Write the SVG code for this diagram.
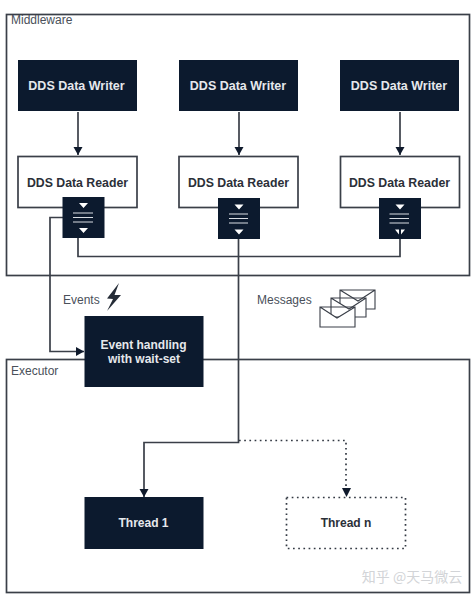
<svg xmlns="http://www.w3.org/2000/svg" width="474" height="597" viewBox="0 0 474 597">
<defs>
<marker id="arr" markerUnits="userSpaceOnUse" markerWidth="9" markerHeight="10" refX="8" refY="4.500" orient="auto"><path d="M0,0 L8,4.500 L0,9 Z" fill="#0f1a2c"/></marker>
</defs>
<style>
text{font-family:"Liberation Sans",Arial,sans-serif;text-anchor:middle}
.box{fill:#fff;stroke:#3a3f48;stroke-width:1.7}
.dark{fill:#0c1a2e}
.lbl{font-size:12.3px;font-weight:700;fill:#2b3038}
.wl{font-size:12.5px;font-weight:700;fill:#e6e8ec}
.sm{font-size:12px}
.cap{font-size:12px;fill:#4a505a;text-anchor:start}
.wire{fill:none;stroke:#3a3f48;stroke-width:1.7}
.dot{fill:none;stroke:#333943;stroke-width:1.7;stroke-dasharray:1.700 3.500}
.tri{fill:#fff}
.ln{stroke:#d9dde3;stroke-width:1}
.env{fill:#fff;stroke:#3a3f48;stroke-width:1.100}
</style>
<rect width="474" height="597" fill="#fff"/>
<g id="middleware"><rect class="box" x="6.500" y="14.500" width="463" height="261"/><text class="cap" x="11" y="24">Middleware</text></g>
<g id="executor"><rect class="box" x="6.500" y="359.500" width="463" height="233"/><text class="cap" x="11" y="375">Executor</text></g>
<g id="connectors">
<path class="wire" d="M78,112V155" marker-end="url(#arr)"/>
<path class="wire" d="M239,112V155" marker-end="url(#arr)"/>
<path class="wire" d="M400,112V155" marker-end="url(#arr)"/>
<path class="wire" d="M63,217.500H50V351.500H84" marker-end="url(#arr)"/>
<path class="wire" d="M78,237V256.500H400V238"/>
<path class="wire" d="M238.500,238V442.500H144V497" marker-end="url(#arr)"/>
<path class="dot" d="M239,440.500H346V487"/>
<path d="M342,488H351L346.500,497Z" fill="#0f1a2c"/>
</g>
<g id="writer1"><rect class="dark" x="18" y="60" width="119" height="51"/><text class="wl" x="76.500" y="90">DDS Data Writer</text></g>
<g id="writer2"><rect class="dark" x="179" y="60" width="119" height="51"/><text class="wl" x="238" y="90">DDS Data Writer</text></g>
<g id="writer3"><rect class="dark" x="340" y="60" width="119" height="51"/><text class="wl" x="399" y="90">DDS Data Writer</text></g>
<g id="reader1"><rect class="box" x="18" y="156.500" width="119" height="51"/><text class="lbl" x="77.500" y="187">DDS Data Reader</text></g>
<g id="reader2"><rect class="box" x="179" y="156.500" width="119" height="51"/><text class="lbl" x="238.500" y="187">DDS Data Reader</text></g>
<g id="reader3"><rect class="box" x="340.500" y="156.500" width="119" height="51"/><text class="lbl" x="399.500" y="187">DDS Data Reader</text></g>
<g id="queue1"><rect class="dark" x="62.500" y="197" width="42" height="41"/><path class="tri" d="M79,203H88L83.500,208Z M79,228H88L83.500,233Z"/><path class="ln" d="M73,213H93M73,217.500H93M73,222H93"/></g>
<g id="queue2"><rect class="dark" x="218" y="198" width="42" height="41"/><path class="tri" d="M234.500,204.500H243.500L239,209.500Z M234.500,229.500H243.500L239,234.500Z"/><path class="ln" d="M229,214H248M229,218.500H248M229,223H248"/></g>
<g id="queue3"><rect class="dark" x="379" y="198" width="42" height="41"/><path class="tri" d="M395.500,204.500H404.500L400,209.500Z M395,229.500H399V234.500Z M401,229.500H405L401,234.500Z"/><path class="ln" d="M389.500,214H409M389.500,218.500H409M389.500,223H409"/></g>
<g id="events"><text class="cap" x="63" y="304">Events</text><path d="M119,283L107,298.500L113,299L107,311L121,295L114.500,295Z" fill="#252c37"/></g>
<g id="messages"><text class="cap" x="257" y="304">Messages</text>
<path class="env" d="M340,290H375V309H340Z M340,290L358,301L375,290"/>
<path class="env" d="M331,298H366V317H331Z M331,298L349,309L366,298"/>
<path class="env" d="M320,307H355V327H320Z M320,307L337,318L355,307"/></g>
<g id="eventhandling"><rect class="dark" x="84.500" y="316" width="119" height="71"/><text class="wl sm" x="143.500" y="349">Event handling</text><text class="wl sm" x="144" y="363">with wait-set</text></g>
<g id="thread1"><rect class="dark" x="84.500" y="497" width="119" height="52"/><text class="wl sm" x="143.500" y="527">Thread 1</text></g>
<g id="threadn"><rect class="dot" x="286.500" y="497.500" width="119" height="51"/><text class="lbl sm" x="346" y="527">Thread n</text></g>
<text x="412" y="582" style="font-family:'Noto Sans CJK SC','Liberation Sans',sans-serif;font-size:14px" fill="#d2d4d7">知乎 @天马微云</text>
</svg>
